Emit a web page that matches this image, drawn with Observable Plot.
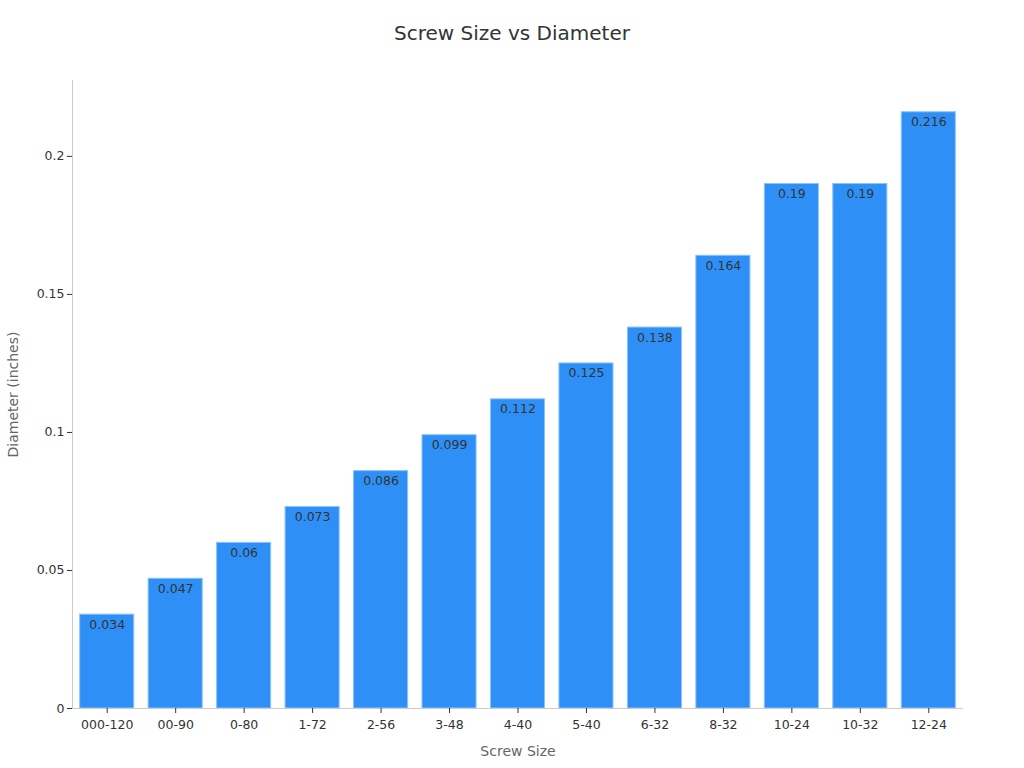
<!DOCTYPE html>
<html>
<head>
<meta charset="utf-8">
<script src="https://cdn.jsdelivr.net/npm/d3@7"></script>
<script src="https://cdn.jsdelivr.net/npm/@observablehq/plot@0.6"></script>
<style>
  body { margin: 0; background: #fff; font-family: "DejaVu Sans", sans-serif; }
  #wrap { position: relative; width: 1024px; height: 768px; }
  #title { position: absolute; top: 21px; left: 0; width: 1024px; text-align: center; font-size: 20px; color: #333; z-index: 2; }
  #chart { position: absolute; top: 0; left: 0; z-index: 1; }
</style>
</head>
<body>
<div id="wrap">
  <div id="title">Screw Size vs Diameter</div>
  <div id="chart"></div>
</div>
<script>
const sizes = ["000-120","00-90","0-80","1-72","2-56","3-48","4-40","5-40","6-32","8-32","10-24","10-32","12-24"];
const diameters = [0.034,0.047,0.06,0.073,0.086,0.099,0.112,0.125,0.138,0.164,0.19,0.19,0.216];
const yTicks = [0, 0.05, 0.1, 0.15, 0.2];

const data = sizes.map((s, i) => ({size: s, d: diameters[i]}));

const plot = Plot.plot({
  width: 1024,
  height: 768,
  marginTop: 80,
  marginLeft: 72,
  marginRight: 61,
  marginBottom: 60,
  style: {fontFamily: "DejaVu Sans, sans-serif", fontSize: "12px", color: "#333", background: "transparent"},
  x: {domain: sizes, paddingInner: 0.21, paddingOuter: 0.112, round: false, label: null},
  y: {domain: [0, 0.2275], label: null},
  marks: [
    Plot.barY(data, {x: "size", y: "d", fill: "#2E90F6", stroke: "#8CC3FA", strokeWidth: 1}),
    Plot.text(data, {x: "size", y: "d", text: d => String(d.d), dy: 10, fill: "#333", fontSize: 12.5}),
    Plot.ruleY([0], {stroke: "#ccc"}),
    Plot.frame({anchor: "left", stroke: "#ccc"}),
    Plot.axisY({ticks: yTicks, tickFormat: d => String(d), tickSize: 5, tickPadding: 3, stroke: "#333", fill: "#333", fontSize: 12.5, label: null}),
    Plot.axisX({tickSize: 5, tickPadding: 7, fontSize: 12.5, fill: "#333", label: null}),
    Plot.text(["Diameter (inches)"], {frameAnchor: "left", textAnchor: "middle", dx: -59, rotate: -90, fontSize: 14, fill: "#666"}),
    Plot.text(["Screw Size"], {frameAnchor: "bottom", dy: 47, fontSize: 14, fill: "#666"})
  ]
});
document.getElementById("chart").appendChild(plot);
</script>
</body>
</html>
